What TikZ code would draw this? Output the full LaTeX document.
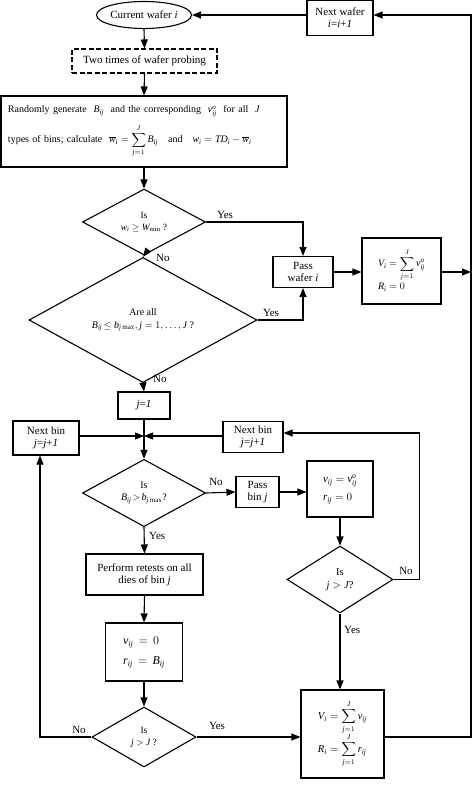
\documentclass[tikz,border=0pt]{standalone}
\usepackage{fontspec}
\setmainfont{Liberation Serif}
\DeclareSymbolFont{tletters}{TU}{\rmdefault}{m}{it}
\newcommand\mlet[1]{\DeclareMathSymbol{#1}{\mathalpha}{tletters}{`#1}}
\mlet a\mlet b\mlet c\mlet d\mlet e\mlet f\mlet g\mlet h\mlet i\mlet j\mlet k\mlet l\mlet m
\mlet n\mlet o\mlet p\mlet q\mlet r\mlet s\mlet t\mlet u\mlet v\mlet w\mlet x\mlet y\mlet z
\mlet A\mlet B\mlet C\mlet D\mlet E\mlet F\mlet G\mlet H\mlet I\mlet J\mlet K\mlet L\mlet M
\mlet N\mlet O\mlet P\mlet Q\mlet R\mlet S\mlet T\mlet U\mlet V\mlet W\mlet X\mlet Y\mlet Z
\usetikzlibrary{shapes.geometric,arrows.meta}
\begin{document}
\begin{tikzpicture}[x=1pt,y=-1pt,
  every node/.style={font=\fontsize{11}{13}\selectfont},
  box/.style={draw, line width=1.1pt, rectangle, inner sep=1pt, align=center},
  dia/.style={draw, diamond, line width=1.1pt, inner sep=0pt, align=center},
  arr/.style={line width=1.1pt, -{Triangle[length=9pt,width=7pt]}},
  lab/.style={font=\fontsize{11}{13}\selectfont, inner sep=1pt}]
\useasboundingbox (0,0) rectangle (474,791);
\coordinate (bus) at (471,0);
% nodes
\node[draw, ellipse, line width=1.1pt, minimum width=92pt, minimum height=27pt, inner sep=0pt] (cur) at (144,15) {Current wafer \textit{i}};
\node[box, minimum width=66pt, minimum height=35pt] (next) at (340,18) {Next wafer\\[-1pt]\textit{i}=\textit{i}+\textit{1}};
\node[box, dash pattern=on 5pt off 2.5pt, minimum width=145pt, minimum height=24pt] (probe) at (144.5,61) {Two times of wafer probing};
\node[box, minimum width=286pt, minimum height=71pt, font=\fontsize{10}{12}\selectfont, align=left, text width=272pt] (gen) at (144,131.5) {%
  Randomly generate \ $B_{ij}$ \ and the corresponding \ $v_{ij}^{o}$ \ for all \ $J$\\[7pt]
  types of bins; calculate \ $\displaystyle\overline{w}_i=\sum_{j=1}^{J}B_{ij}$ \ \ and \ \ $w_i=TD_i-\overline{w}_i$};
\node[dia, minimum width=123pt, minimum height=60pt, font=\fontsize{9.5}{12}\selectfont] (d1) at (144,222) {Is\\$w_i\ge W_{\min}$ ?};
\node[dia, minimum width=228pt, minimum height=92pt, font=\fontsize{10}{13}\selectfont] (d2) at (143,320) {Are all\\$B_{ij}\!\le b_{j\max}, j=1,\ldots,J$ ?};
\node[box, minimum width=60pt, minimum height=31pt] (passw) at (303,272) {Pass\\[-1pt]wafer \textit{i}};
\node[box, minimum width=79pt, minimum height=66pt, font=\fontsize{10}{12}\selectfont] (V1) at (401.5,271) {%
  \begin{tabular}{@{}l@{}}$\displaystyle V_i=\sum_{j=1}^{J}v_{ij}^{o}$\\[0pt]$R_i=0$\end{tabular}};
\node[box, minimum width=52pt, minimum height=27pt] (j1) at (144,405.5) {\textit{j}=\textit{1}};
\node[box, minimum width=66pt, minimum height=34pt] (nbL) at (46,438) {Next bin\\[-1pt]\textit{j}=\textit{j}+\textit{1}};
\node[box, minimum width=60pt, minimum height=31pt] (nbR) at (253,437) {Next bin\\[-1pt]\textit{j}=\textit{j}+\textit{1}};
\coordinate (junc) at (144,436);
\node[dia, minimum width=123pt, minimum height=67pt, font=\fontsize{10}{12}\selectfont] (d3) at (144,493) {Is\\$B_{ij}\!>\!b_{j\max}$?};
\node[box, minimum width=43pt, minimum height=31pt] (passb) at (257.5,492) {Pass\\[-1pt]bin \textit{j}};
\node[box, minimum width=66pt, minimum height=56pt, font=\fontsize{11}{13}\selectfont] (vb) at (340,489) {%
  \begin{tabular}{@{}l@{}}$v_{ij}=v_{ij}^{o}$\\[5pt]$r_{ij}=0$\end{tabular}};
\node[dia, minimum width=106pt, minimum height=67pt, font=\fontsize{10.5}{13}\selectfont] (d4) at (340,579.5) {Is\\$j>J$?};
\node[box, minimum width=117pt, minimum height=41pt] (perf) at (144.5,574.5) {Perform retests on all\\[-1pt]dies of bin \textit{j}};
\node[box, minimum width=77pt, minimum height=58pt, font=\fontsize{12}{14}\selectfont] (v0) at (144,652) {%
  \begin{tabular}{@{}l@{}}$v_{ij}\,=\,0$\\[6pt]$r_{ij}\,=\,B_{ij}$\end{tabular}};
\node[dia, minimum width=104pt, minimum height=60pt, font=\fontsize{9.5}{12}\selectfont] (d5) at (144,737) {Is\\$j>J$ ?};
\node[box, minimum width=83pt, minimum height=88pt, font=\fontsize{10.5}{12}\selectfont] (VR) at (342.5,734) {%
  \begin{tabular}{@{}l@{}}$\displaystyle V_i=\sum_{j=1}^{J}v_{ij}$\\[5pt]$\displaystyle R_i=\sum_{j=1}^{J}r_{ij}$\end{tabular}};
% connectors
\draw[arr] (next.west |- cur.east) -- (cur.east);
\draw[arr] (cur.south) -- (probe.north);
\draw[arr] (probe.south) -- (gen.north);
\draw[arr] (gen.south) -- (d1.north);
\draw[arr] (d1.east) -| (passw.north);
\node[lab, anchor=south] at (225,220) {Yes};
\draw[arr] (d1.south) -- (d2.north);
\node[lab, anchor=west] at (155,258) {No};
\draw[arr] (d2.east) -| (passw.south);
\node[lab, anchor=south] at (271,318) {Yes};
\draw[arr] (passw.east) -- (V1.west |- passw.east);
\draw[arr] (V1.east |- passw.east) -- (bus |- passw.east);
\draw[arr] (d2.south) -- (j1.north);
\node[lab, anchor=west] at (152,379) {No};
\draw[arr] (j1.south) -- (d3.north);
\draw[arr] (nbL.east |- junc) -- (junc);
\draw[arr] (nbR.west |- junc) -- (junc);
\draw[arr] (d3.east) -- (passb.west);
\node[lab, anchor=south] at (216,487) {No};
\draw[arr] (passb.east) -- (vb.west |- passb.east);
\draw[arr] (vb.south) -- (d4.north);
\draw[arr] (d4.east) -- ++(26,0) |- (nbR.east |- 0,433);
\node[lab, anchor=south] at (406,576) {No};
\draw[arr] (d4.south) -- (d4.south |- VR.north);
\node[lab, anchor=west] at (343,630) {Yes};
\draw[arr] (d3.south) -- (perf.north);
\node[lab, anchor=west] at (148,536) {Yes};
\draw[arr] (perf.south) -- (v0.north);
\draw[arr] (v0.south) -- (d5.north);
\draw[arr] (d5.west) -| ([xshift=-6pt]nbL.south);
\node[lab, anchor=south] at (79,735) {No};
\draw[arr] (d5.east) -- (VR.west |- d5.east);
\node[lab, anchor=south] at (217,731) {Yes};
\draw[arr] (VR.east |- d5.east) -- (bus |- d5.east) -- (bus |- cur.east) -- (next.east |- cur.east);
\end{tikzpicture}
\end{document}
